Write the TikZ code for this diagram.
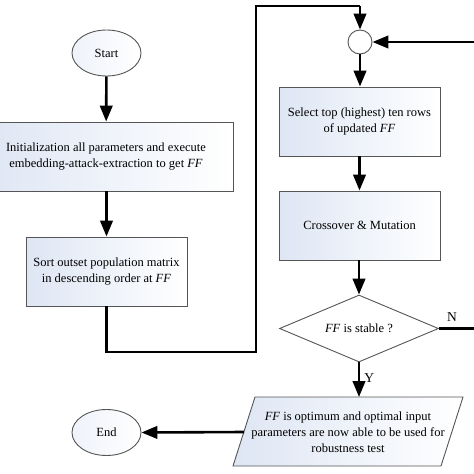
\documentclass[tikz,border=0pt]{standalone}
\usepackage{fontspec}
\setmainfont{Liberation Serif}
\usetikzlibrary{arrows.meta,shapes.geometric}
\definecolor{boxblue}{RGB}{222,230,244}
\definecolor{edgegray}{RGB}{85,85,85}
\begin{document}
\begin{tikzpicture}[x=1pt,y=-1pt,
  every node/.style={font=\fontsize{12.5}{16}\selectfont, align=center, inner sep=0pt},
  procbox/.style={rectangle, draw=edgegray, line width=0.9pt, left color=boxblue, right color=white, minimum width=161pt, minimum height=69pt},
  termnode/.style={ellipse, draw=edgegray, line width=0.9pt, left color=boxblue!50, right color=white, minimum width=69pt, minimum height=46pt},
  flow/.style={line width=2.6pt, -{Triangle[length=16pt,width=12.5pt]}},
  flowline/.style={line width=2.6pt},
  lbl/.style={font=\fontsize{13.5}{15}\selectfont}
]
\useasboundingbox (0,0) rectangle (474,474);
\begin{scope}
\clip (0,0) rectangle (474,474);

\node[termnode] (start) at (106.5,53) {Start};
\node[procbox, minimum width=254pt] (init) at (106,156.5) {Initialization all parameters and execute\\embedding-attack-extraction to get \textit{FF}};
\node[procbox] (sort) at (106.5,271.5) {Sort outset population matrix\\in descending order at \textit{FF}};
\node[circle, draw=edgegray, line width=0.9pt, fill=white, minimum size=24pt] (join) at (360,42) {};
\node[procbox] (select) at (359.5,121.5) {Select top (highest) ten rows\\of updated \textit{FF}};
\node[procbox] (cross) at (359.5,225.5) {Crossover \& Mutation};
\node[diamond, draw=edgegray, line width=0.9pt, fill=white, aspect=2.37, minimum width=159pt, minimum height=67pt] (stable) at (359,328.5) {\textit{FF} is stable ?};

% parallelogram
\shade[left color=boxblue, right color=white, draw=edgegray, line width=0.9pt]
  (255,397) -- (463,397) -- (441,466) -- (233,466) -- cycle;
\node (para) at (348,432) {\textit{FF} is optimum and optimal input\\parameters are now able to be used for\\robustness test};
\coordinate (paraW) at (244,432);
\coordinate (paraN) at (359,397);

\node[termnode] (end) at (106.5,432.5) {End};

% connectors
\draw[flow] (start) -- (init);
\draw[flow] (init.south -| sort.north) -- (sort.north);
\coordinate (c1) at (106.5,352);
\coordinate (c2) at (256,352);
\coordinate (c3) at (256,6);
\coordinate (c4) at (360,6);
\draw[flowline] (sort.south) -- (c1) -- (c2) -- (c3) -- (c4);
\draw[flow] (c4) -- (join.north);
\draw[flow] (join.south) -- (select.north -| join.south);
\draw[flow] (select.south) -- (cross.north);
\draw[flow] (cross.south -| stable.north) -- (stable.north);
\draw[flow] (stable.south) -- (paraN) node[lbl, pos=0.45, right=4pt] {Y};
\coordinate (r1) at (490,328.5);
\coordinate (r2) at (490,42);
\draw[flowline] (stable.east) -- (r1) -- (r2);
\draw[flow] (r2) -- (join.east);
\node[lbl] (nlabel) at (452,317) {N};
\draw[flow] (paraW) -- (end.east);
\end{scope}
\end{tikzpicture}
\end{document}
